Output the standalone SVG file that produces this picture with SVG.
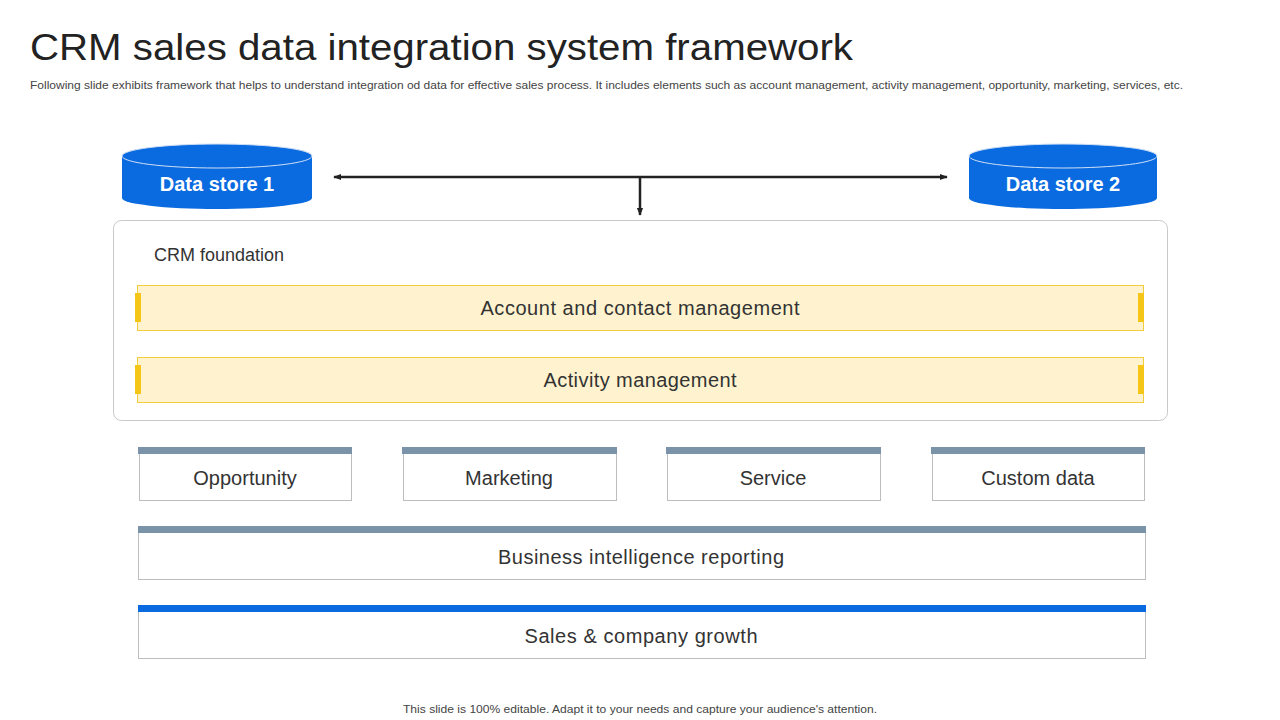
<svg xmlns="http://www.w3.org/2000/svg" width="1280" height="720" viewBox="0 0 1280 720">
<defs>
<style>
text{font-family:"Liberation Sans",Arial,sans-serif;fill:#333}
.cyl{fill:#0a6ae0}
.ds{font-size:20px;font-weight:bold;fill:#fff}
.lbl{font-size:20px;text-anchor:middle}
.bar{fill:#fff3cf;stroke:#f2cc3a;stroke-width:1}
.tab{fill:#f5c518}
.box{fill:#fff;stroke:#bdbdbd;stroke-width:1}
.hdr{fill:#7a93a8}
</style>
<marker id="ah" viewBox="0 0 10 10" refX="9" refY="5" markerWidth="8" markerHeight="8" markerUnits="userSpaceOnUse" orient="auto-start-reverse"><path d="M0,1 L10,5 L0,9 Z" fill="#222"/></marker>
</defs>
<rect width="1280" height="720" fill="#fff"/>
<text x="30" y="60" style="font-size:36px;fill:#222" textLength="823" lengthAdjust="spacingAndGlyphs">CRM sales data integration system framework</text>
<text x="30" y="89" style="font-size:11px;fill:#444" textLength="1153" lengthAdjust="spacingAndGlyphs">Following slide exhibits framework that helps to understand integration od data for effective  sales process. It includes elements such as account management, activity management, opportunity, marketing, services, etc.</text>

<g id="ds1">
<path class="cyl" d="M122,156 L122,198 A95,11 0 0 0 312,198 L312,156 Z"/>
<ellipse cx="217" cy="156" rx="95" ry="12" class="cyl" stroke="#cfe0f7" stroke-width="1"/>
<text x="217" y="191" class="ds" text-anchor="middle">Data store 1</text>
</g>
<g id="ds2">
<path class="cyl" d="M969,156 L969,198 A94,11 0 0 0 1157,198 L1157,156 Z"/>
<ellipse cx="1063" cy="156" rx="94" ry="12" class="cyl" stroke="#cfe0f7" stroke-width="1"/>
<text x="1063" y="191" class="ds" text-anchor="middle">Data store 2</text>
</g>

<g id="connectors" stroke="#222" stroke-width="2.5" fill="none">
<line x1="334" y1="177" x2="947" y2="177" marker-start="url(#ah)" marker-end="url(#ah)"/>
<line x1="640" y1="177" x2="640" y2="215" marker-end="url(#ah)"/>
</g>

<g id="crm">
<rect x="113.500" y="220.500" width="1054" height="200" rx="8" fill="#fff" stroke="#c8c8c8"/>
<text x="154" y="261" style="font-size:18px">CRM foundation</text>
</g>
<g id="acct">
<rect class="bar" x="137.500" y="285.500" width="1006" height="45"/>
<rect class="tab" x="135" y="293" width="6" height="29"/>
<rect class="tab" x="1138" y="293" width="6" height="29"/>
<text x="640" y="315" class="lbl" textLength="319">Account and contact management</text>
</g>
<g id="activity">
<rect class="bar" x="137.500" y="357.500" width="1006" height="45"/>
<rect class="tab" x="135" y="365" width="6" height="29"/>
<rect class="tab" x="1138" y="365" width="6" height="29"/>
<text x="640" y="387" class="lbl" textLength="193">Activity management</text>
</g>

<g id="opportunity"><rect class="box" x="139.500" y="450.500" width="212" height="50"/><rect class="hdr" x="138" y="447" width="214" height="7"/><text x="245" y="485" class="lbl">Opportunity</text></g>
<g id="marketing"><rect class="box" x="403.500" y="450.500" width="213" height="50"/><rect class="hdr" x="402" y="447" width="215" height="7"/><text x="509" y="485" class="lbl">Marketing</text></g>
<g id="service"><rect class="box" x="667.500" y="450.500" width="213" height="50"/><rect class="hdr" x="666" y="447" width="215" height="7"/><text x="773" y="485" class="lbl">Service</text></g>
<g id="custom"><rect class="box" x="932.500" y="450.500" width="212" height="50"/><rect class="hdr" x="931" y="447" width="214" height="7"/><text x="1038" y="485" class="lbl">Custom data</text></g>

<g id="bi"><rect class="box" x="138.500" y="529.500" width="1007" height="50"/><rect class="hdr" x="138" y="526" width="1008" height="7"/><text x="641" y="564" class="lbl" textLength="286">Business intelligence  reporting</text></g>
<g id="sales"><rect class="box" x="138.500" y="608.500" width="1007" height="50"/><rect fill="#0a6ae0" x="138" y="605" width="1008" height="7"/><text x="641" y="643" class="lbl" textLength="233">Sales &amp; company  growth</text></g>

<text x="640" y="713" style="font-size:11px;fill:#444" text-anchor="middle" textLength="474" lengthAdjust="spacingAndGlyphs">This slide is 100% editable. Adapt it to your needs and capture your audience's attention.</text>
</svg>
